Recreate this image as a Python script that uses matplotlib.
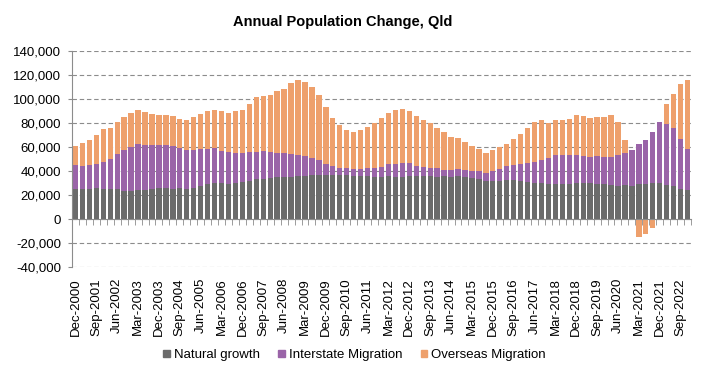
import numpy as np
import pandas as pd
import matplotlib
matplotlib.use("Agg")
import matplotlib.pyplot as plt
from matplotlib.patches import Patch

plt.rcParams["font.family"] = ["Liberation Sans", "DejaVu Sans"]

# --------------------------------------------------
# Data (annual change, persons) - quarterly, Dec-2000 to Dec-2022
# --------------------------------------------------

quarters = pd.date_range("2000-12-31", periods=89, freq="QE-DEC").strftime("%b-%Y").tolist()

natural = [
    25.0, 25.0, 25.0, 25.6, 25.0, 25.0, 25.0, 23.3, 23.6, 23.9,
    24.4, 25.0, 25.8, 25.8, 25.3, 25.6, 25.0, 25.6, 27.2, 28.9,
    30.0, 30.0, 29.4, 30.0, 30.8, 31.7, 33.3, 33.3, 34.2, 35.0,
    35.0, 35.0, 35.8, 35.8, 36.7, 36.7, 36.7, 36.7, 36.7, 36.7,
    35.8, 35.8, 35.8, 35.0, 35.0, 35.8, 35.0, 35.0, 35.8, 35.8,
    35.8, 35.8, 35.0, 35.8, 35.0, 35.8, 35.0, 34.2, 33.3, 31.7,
    31.7, 31.7, 32.5, 32.5, 31.7, 30.8, 30.0, 30.0, 29.2, 29.2,
    29.2, 29.2, 30.0, 30.0, 30.0, 29.2, 29.2, 28.3, 27.5, 28.3,
    27.5, 29.2, 29.2, 30.0, 30.0, 28.3, 27.5, 25.0, 24.2,
]

interstate = [
    20.0, 19.2, 20.0, 20.2, 22.2, 24.7, 29.2, 33.9, 36.7, 38.3,
    37.0, 36.4, 35.6, 35.6, 35.3, 33.3, 32.5, 31.6, 30.9, 29.2,
    28.9, 26.7, 26.4, 25.3, 24.2, 24.1, 22.8, 23.4, 21.6, 20.0,
    20.0, 19.2, 17.5, 16.7, 14.4, 12.5, 9.4, 7.8, 5.8, 5.8,
    5.8, 5.8, 6.7, 7.5, 8.3, 10.0, 10.8, 11.7, 10.9, 8.4,
    7.5, 6.7, 7.5, 5.0, 5.8, 5.9, 5.8, 5.8, 6.7, 6.6,
    8.3, 10.0, 11.7, 12.5, 14.1, 15.9, 17.5, 19.2, 21.6, 24.1,
    24.1, 24.1, 23.3, 22.5, 21.7, 23.3, 22.5, 23.4, 25.8, 26.7,
    30.0, 33.3, 36.6, 42.5, 50.8, 50.9, 48.3, 41.7, 34.1,
]

overseas = [
    15.8, 18.9, 20.6, 24.2, 27.5, 26.1, 26.6, 27.8, 27.8, 28.6,
    27.8, 26.1, 25.3, 25.0, 25.2, 24.4, 24.7, 27.5, 29.1, 31.6,
    31.7, 33.3, 32.3, 34.4, 35.6, 39.8, 45.3, 45.5, 47.5, 51.7,
    53.3, 58.9, 62.5, 61.7, 58.9, 54.2, 47.2, 39.7, 36.1, 31.7,
    30.8, 32.5, 34.2, 37.5, 40.8, 42.5, 45.0, 45.0, 43.3, 41.6,
    39.2, 37.5, 33.3, 31.7, 27.5, 25.8, 23.4, 20.8, 18.3, 16.7,
    17.5, 18.3, 18.3, 21.7, 25.0, 29.1, 33.3, 33.3, 29.2, 29.2,
    28.9, 30.0, 33.4, 33.3, 32.5, 32.5, 33.3, 35.0, 27.5, 10.8,
    0.3, -14.7, -12.5, -7.2, 0.3, 16.6, 28.4, 45.8, 57.5,
]

series_names = ["Natural growth", "Interstate Migration", "Overseas Migration"]
colors = ["#6b6b6b", "#9a64a8", "#eea06c"]

nat = np.array(natural) * 1000
inter = np.array(interstate) * 1000
over = np.array(overseas) * 1000
x = np.arange(len(quarters))

# --------------------------------------------------
# Plot
# --------------------------------------------------

fig = plt.figure(figsize=(7.09, 3.78), dpi=100)
ax = fig.add_axes([72 / 709, 1 - 267 / 378, 619 / 709, 216 / 378])

w = 0.77
ax.bar(x, nat, width=w, color=colors[0], zorder=2)
ax.bar(x, inter, width=w, bottom=nat, color=colors[1], zorder=2)
# excel stacks negatives down from zero
over_bottom = np.where(over >= 0, nat + inter, 0)
ax.bar(x, over, width=w, bottom=over_bottom, color=colors[2], zorder=2)

ax.set_xlim(-0.5, len(x) - 0.5)
ax.set_ylim(-40000, 140000)
ax.set_yticks(np.arange(-40000, 140001, 20000))
ax.yaxis.set_major_formatter(matplotlib.ticker.FuncFormatter(lambda v, p: f"{v:,.0f}"))
ax.grid(axis="y", color="#8c8c8c", linestyle=(0, (4, 2.5)), linewidth=0.8, zorder=0)
ax.tick_params(axis="y", labelsize=9.5, length=3, color="#8c8c8c", pad=5)

for s in ["top", "right"]:
    ax.spines[s].set_visible(False)
ax.spines["left"].set_color("#8c8c8c")
ax.spines["bottom"].set_position(("data", 0))
ax.spines["bottom"].set_color("#8c8c8c")
ax.spines["bottom"].set_zorder(3)

# tick marks on the zero line between categories
ax.set_xticks(x)
ax.set_xticklabels([])
ax.tick_params(axis="x", which="major", length=0)
ax.set_xticks(np.arange(-0.5, len(x), 1), minor=True)
ax.tick_params(axis="x", which="minor", length=4, color="#8c8c8c", direction="out")

# category labels at bottom of plot
sec = ax.secondary_xaxis("bottom")
sec.set_xticks(x[::3])
sec.set_xticklabels(quarters[::3], rotation=90, fontsize=9.5)
sec.tick_params(length=0, pad=8)
sec.spines["bottom"].set_visible(False)

fig.text(0.483, 0.942, "Annual Population Change, Qld", ha="center", va="center",
         fontsize=10.5, fontweight="bold")

handles = [Patch(color=c, label=n) for c, n in zip(colors, series_names)]
fig.legend(handles=handles, loc="center", bbox_to_anchor=(0.5, 1 - 355 / 378), ncol=3,
           frameon=False, fontsize=9.5, handlelength=0.5, handleheight=0.5,
           handletextpad=0.3, columnspacing=1.4)

fig.savefig("out.png", dpi=100)
